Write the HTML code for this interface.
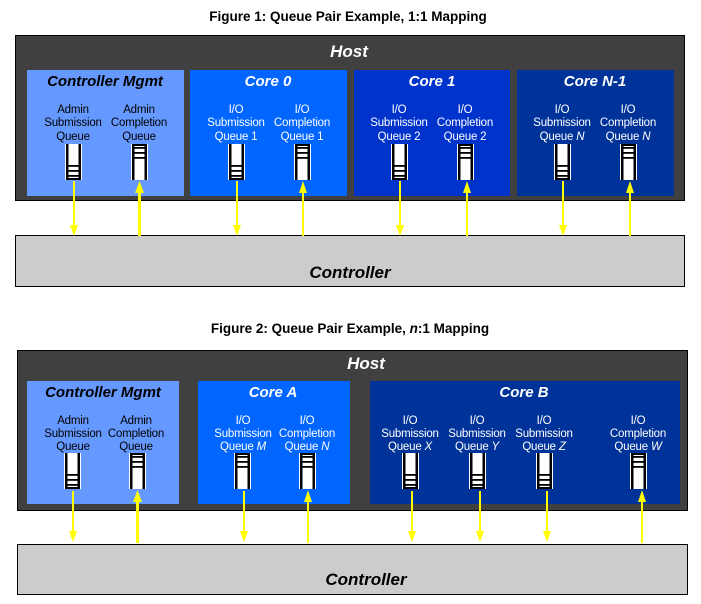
<!DOCTYPE html>
<html><head><meta charset="utf-8"><style>
html,body{margin:0;padding:0;background:#fff;}
svg{display:block;}
text{font-family:"Liberation Sans",sans-serif;}
.t{font-size:13.5px;font-weight:bold;fill:#000;text-anchor:middle;}
.h{font-size:17px;font-weight:bold;font-style:italic;fill:#fff;text-anchor:middle;}
.c{font-size:15px;font-weight:bold;font-style:italic;fill:#fff;text-anchor:middle;}
.cb{font-size:15px;font-weight:bold;font-style:italic;fill:#000;text-anchor:middle;}
.l{font-size:11.5px;fill:#fff;text-anchor:middle;letter-spacing:-0.2px;}
.lb{font-size:11.5px;fill:#000;text-anchor:middle;letter-spacing:-0.2px;}
.ctl{font-size:17px;font-weight:bold;font-style:italic;fill:#000;text-anchor:middle;}
</style></head><body>
<svg width="701" height="604" viewBox="0 0 701 604" xmlns="http://www.w3.org/2000/svg">
<defs>
<g id="sq">
<rect x="0" y="0" width="17" height="36" fill="#fff"/>
<rect x="1" y="0" width="2.5" height="36" fill="#000"/>
<rect x="13.5" y="0" width="2.5" height="36" fill="#000"/>
<rect x="1" y="34" width="15" height="2" fill="#000"/>
<rect x="3" y="21" width="11" height="1.8" fill="#000"/>
<rect x="3" y="26" width="11" height="1.8" fill="#000"/>
<rect x="3" y="31" width="11" height="1.8" fill="#000"/>
</g>
<g id="cq">
<rect x="0" y="0" width="17" height="36" fill="#fff"/>
<rect x="1" y="0" width="2.5" height="36" fill="#000"/>
<rect x="13.5" y="0" width="2.5" height="36" fill="#000"/>
<rect x="1" y="0" width="15" height="2" fill="#000"/>
<rect x="3" y="3" width="11" height="1.8" fill="#000"/>
<rect x="3" y="8" width="11" height="1.8" fill="#000"/>
<rect x="3" y="13" width="11" height="1.8" fill="#000"/>
</g>
</defs>

<!-- Figure 1 -->
<text class="t" x="348" y="21">Figure 1: Queue Pair Example, 1:1 Mapping</text>
<rect x="15.5" y="35.5" width="669" height="165" fill="#404040" stroke="#000" stroke-width="1"/>
<text class="h" x="349" y="57">Host</text>
<rect x="27" y="70" width="157" height="126" fill="#6699ff"/>
<rect x="190" y="70" width="157" height="126" fill="#0066ff"/>
<rect x="354" y="70" width="156" height="126" fill="#0033cc"/>
<rect x="517" y="70" width="157" height="126" fill="#003399"/>
<text class="cb" x="105" y="86">Controller Mgmt</text>
<text class="c" x="268" y="86">Core 0</text>
<text class="c" x="432" y="86">Core 1</text>
<text class="c" x="595" y="86">Core N-1</text>

<text class="lb" x="73" y="113">Admin</text><text class="lb" x="73" y="126">Submission</text><text class="lb" x="73" y="140">Queue</text>
<text class="lb" x="139" y="113">Admin</text><text class="lb" x="139" y="126">Completion</text><text class="lb" x="139" y="140">Queue</text>
<text class="l" x="236" y="113">I/O</text><text class="l" x="236" y="126">Submission</text><text class="l" x="236" y="140">Queue 1</text>
<text class="l" x="302" y="113">I/O</text><text class="l" x="302" y="126">Completion</text><text class="l" x="302" y="140">Queue 1</text>
<text class="l" x="399" y="113">I/O</text><text class="l" x="399" y="126">Submission</text><text class="l" x="399" y="140">Queue 2</text>
<text class="l" x="465" y="113">I/O</text><text class="l" x="465" y="126">Completion</text><text class="l" x="465" y="140">Queue 2</text>
<text class="l" x="562" y="113">I/O</text><text class="l" x="562" y="126">Submission</text><text class="l" x="562" y="140">Queue <tspan font-style="italic">N</tspan></text>
<text class="l" x="628" y="113">I/O</text><text class="l" x="628" y="126">Completion</text><text class="l" x="628" y="140">Queue <tspan font-style="italic">N</tspan></text>

<use href="#sq" x="65" y="144"/><use href="#cq" x="131" y="144"/>
<use href="#sq" x="228" y="144"/><use href="#cq" x="294" y="144"/>
<use href="#sq" x="391" y="144"/><use href="#cq" x="457" y="144"/>
<use href="#sq" x="554" y="144"/><use href="#cq" x="620" y="144"/>

<rect x="15.5" y="235.5" width="669" height="51" fill="#cccccc" stroke="#000" stroke-width="1"/>
<text class="ctl" x="350" y="278">Controller</text>

<g fill="#ffff00" stroke="none">
<rect x="73" y="181" width="2" height="46"/><polygon points="70,225 78,225 74,236"/>
<rect x="236" y="181" width="2" height="46"/><polygon points="233,225 241,225 237,236"/>
<rect x="399" y="181" width="2" height="46"/><polygon points="396,225 404,225 400,236"/>
<rect x="562" y="181" width="2" height="46"/><polygon points="559,225 567,225 563,236"/>
<rect x="138" y="190" width="3" height="46"/><polygon points="135,193 144,193 139.5,181"/>
<rect x="302" y="190" width="2" height="46"/><polygon points="299,193 307,193 303,181"/>
<rect x="466" y="190" width="2" height="46"/><polygon points="463,193 471,193 467,181"/>
<rect x="629" y="190" width="2" height="46"/><polygon points="626,193 634,193 630,181"/>
</g>

<!-- Figure 2 -->
<text class="t" x="350" y="333">Figure 2: Queue Pair Example, <tspan font-style="italic">n</tspan>:1 Mapping</text>
<rect x="17.5" y="350.5" width="670" height="160" fill="#404040" stroke="#000" stroke-width="1"/>
<text class="h" x="366" y="369">Host</text>
<rect x="27" y="381" width="152" height="123" fill="#6699ff"/>
<rect x="198" y="381" width="152" height="123" fill="#0066ff"/>
<rect x="370" y="381" width="310" height="123" fill="#003399"/>
<text class="cb" x="103" y="397">Controller Mgmt</text>
<text class="c" x="273" y="397">Core A</text>
<text class="c" x="524" y="397">Core B</text>

<text class="lb" x="73" y="424">Admin</text><text class="lb" x="73" y="437">Submission</text><text class="lb" x="73" y="450">Queue</text>
<text class="lb" x="136" y="424">Admin</text><text class="lb" x="136" y="437">Completion</text><text class="lb" x="136" y="450">Queue</text>
<text class="l" x="243" y="424">I/O</text><text class="l" x="243" y="437">Submission</text><text class="l" x="243" y="450">Queue <tspan font-style="italic">M</tspan></text>
<text class="l" x="307" y="424">I/O</text><text class="l" x="307" y="437">Completion</text><text class="l" x="307" y="450">Queue <tspan font-style="italic">N</tspan></text>
<text class="l" x="410" y="424">I/O</text><text class="l" x="410" y="437">Submission</text><text class="l" x="410" y="450">Queue <tspan font-style="italic">X</tspan></text>
<text class="l" x="477" y="424">I/O</text><text class="l" x="477" y="437">Submission</text><text class="l" x="477" y="450">Queue <tspan font-style="italic">Y</tspan></text>
<text class="l" x="544" y="424">I/O</text><text class="l" x="544" y="437">Submission</text><text class="l" x="544" y="450">Queue <tspan font-style="italic">Z</tspan></text>
<text class="l" x="638" y="424">I/O</text><text class="l" x="638" y="437">Completion</text><text class="l" x="638" y="450">Queue <tspan font-style="italic">W</tspan></text>

<use href="#sq" x="64" y="453"/><use href="#cq" x="129" y="453"/>
<use href="#cq" x="234" y="453"/><use href="#cq" x="299" y="453"/>
<use href="#sq" x="402" y="453"/><use href="#sq" x="469" y="453"/>
<use href="#sq" x="536" y="453"/><use href="#cq" x="630" y="453"/>

<rect x="17.5" y="544.5" width="670" height="50" fill="#cccccc" stroke="#000" stroke-width="1"/>
<text class="ctl" x="366" y="585">Controller</text>

<g fill="#ffff00">
<rect x="72" y="491" width="2" height="42"/><polygon points="69,531 77,531 73,542"/>
<rect x="243" y="491" width="2" height="42"/><polygon points="240,531 248,531 244,542"/>
<rect x="411" y="491" width="2" height="42"/><polygon points="408,531 416,531 412,542"/>
<rect x="479" y="491" width="2" height="42"/><polygon points="476,531 484,531 480,542"/>
<rect x="546" y="491" width="2" height="42"/><polygon points="543,531 551,531 547,542"/>
<rect x="136" y="500" width="3" height="43"/><polygon points="133,502 142,502 137.5,490"/>
<rect x="307" y="500" width="2" height="43"/><polygon points="304,502 312,502 308,490"/>
<rect x="641" y="500" width="2" height="43"/><polygon points="638,502 646,502 642,490"/>
</g>
</svg>
</body></html>
